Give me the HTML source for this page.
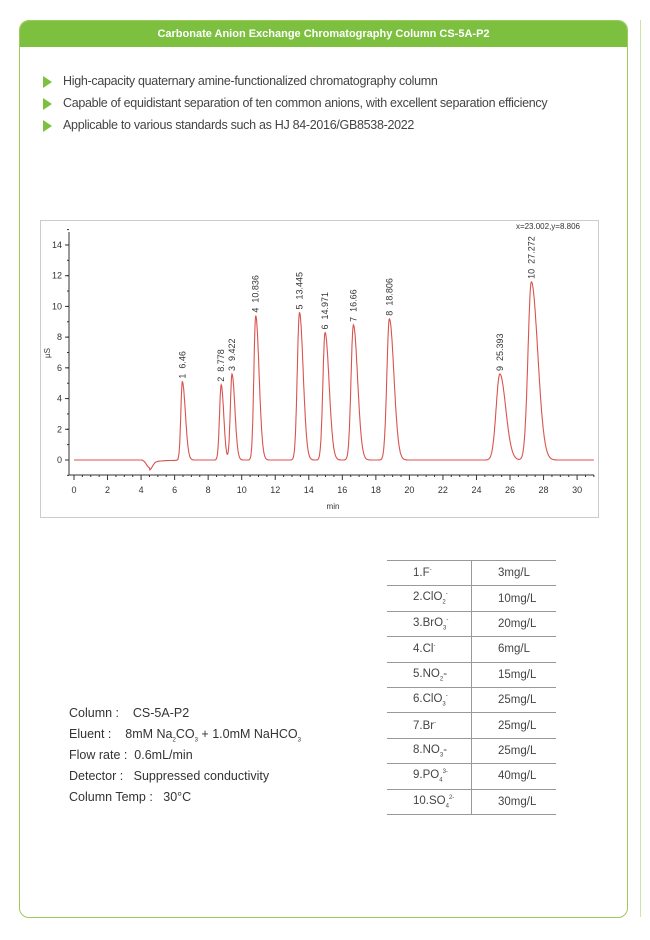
<!DOCTYPE html>
<html><head><meta charset="utf-8"><style>
body{margin:0;width:650px;height:940px;background:#fff;position:relative;overflow:hidden;font-family:"Liberation Sans","DejaVu Sans",sans-serif;}
.card{position:absolute;left:19px;top:20px;width:607px;height:896px;border:1.5px solid #9ccb5a;border-radius:10px;overflow:hidden;}
.hdr{position:absolute;left:0;top:0;width:100%;height:26px;background:#7dc040;color:#fff;font-weight:bold;font-size:11px;text-align:center;line-height:26px;}
.b{position:absolute;left:43px;font-size:12.5px;color:#444;letter-spacing:-0.3px}
.b:before{content:"";position:absolute;left:-20px;top:2px;border-left:9px solid #7dc040;border-top:6px solid transparent;border-bottom:6px solid transparent}
.p{position:absolute;left:49px;font-size:12.5px;color:#333}
table{position:absolute;left:367px;top:539px;border-collapse:collapse;font-size:11.5px;color:#444}
td{height:24.4px;border-top:1px solid #999;border-bottom:1px solid #999;padding:0 0 0 26px;width:58px}
td+td{border-left:1px solid #999;width:58px;padding-left:26px}
sup,sub{font-size:6px}
</style></head><body>
<div style="position:absolute;left:640px;top:20px;width:10px;height:897px;border-left:1px solid #cde3a8"></div>
<div class="card">
<div class="hdr">Carbonate Anion Exchange Chromatography Column CS-5A-P2</div>
<div class="b" style="top:53px">High-capacity quaternary amine-functionalized chromatography column</div>
<div class="b" style="top:75px">Capable of equidistant separation of ten common anions, with excellent separation efficiency</div>
<div class="b" style="top:97px">Applicable to various standards such as HJ 84-2016/GB8538-2022</div>
<div class="p" style="top:685px">Column :&nbsp;&nbsp;&nbsp; CS-5A-P2</div>
<div class="p" style="top:706px">Eluent :&nbsp;&nbsp;&nbsp; 8mM Na<sub>2</sub>CO<sub>3</sub> + 1.0mM NaHCO<sub>3</sub></div>
<div class="p" style="top:727px">Flow rate :&nbsp; 0.6mL/min</div>
<div class="p" style="top:748px">Detector :&nbsp;&nbsp; Suppressed conductivity</div>
<div class="p" style="top:769px">Column Temp :&nbsp;&nbsp; 30°C</div>
<table>
<tr><td>1.F<sup>-</sup></td><td>3mg/L</td></tr>
<tr><td>2.ClO<sub>2</sub><sup>-</sup></td><td>10mg/L</td></tr>
<tr><td>3.BrO<sub>3</sub><sup>-</sup></td><td>20mg/L</td></tr>
<tr><td>4.Cl<sup>-</sup></td><td>6mg/L</td></tr>
<tr><td>5.NO<sub>2</sub>-</td><td>15mg/L</td></tr>
<tr><td>6.ClO<sub>3</sub><sup>-</sup></td><td>25mg/L</td></tr>
<tr><td>7.Br<sup>-</sup></td><td>25mg/L</td></tr>
<tr><td>8.NO<sub>3</sub>-</td><td>25mg/L</td></tr>
<tr><td>9.PO<sub>4</sub><sup>3-</sup></td><td>40mg/L</td></tr>
<tr><td>10.SO<sub>4</sub><sup>2-</sup></td><td>30mg/L</td></tr>
</table>
</div>
<svg id="ch" style="position:absolute;left:0;top:0" width="650" height="940" font-family="Liberation Sans, sans-serif"></svg>
<script>
var s=document.getElementById('ch'),h='';
function X(t){return 74+t*16.77}function Y(v){return 460-v*15.36}
h+='<rect x="40.5" y="220.5" width="558" height="297" fill="none" stroke="#ccc"/>';
h+='<line x1="69" y1="232" x2="69" y2="475" stroke="#333"/><line x1="69" y1="475" x2="594" y2="475" stroke="#333"/>';
for(var v=0;v<=14;v+=2){h+='<line x1="65" x2="69" y1="'+Y(v)+'" y2="'+Y(v)+'" stroke="#333"/><text x="62" y="'+(Y(v)+3)+'" font-size="9" text-anchor="end" fill="#333">'+v+'</text>';}
for(var v=-1;v<=15;v++)h+='<line x1="67" x2="69" y1="'+Y(v)+'" y2="'+Y(v)+'" stroke="#333"/>';
for(var t=0;t<=31;t+=0.5){var big=t%2==0;h+='<line y1="475" y2="'+(big?480:477)+'" x1="'+X(t)+'" x2="'+X(t)+'" stroke="#333"/>';if(big)h+='<text x="'+X(t)+'" y="493" font-size="9" text-anchor="middle" fill="#333">'+t+'</text>';}
h+='<text x="333" y="509" font-size="8" text-anchor="middle" fill="#333">min</text>';
h+='<text x="50" y="353" font-size="8" fill="#333" transform="rotate(-90 50 353)" text-anchor="middle">µS</text>';
h+='<text x="580" y="229" font-size="8" text-anchor="end" fill="#333">x=23.002,y=8.806</text>';
var P=[[6.46,5.1,.09,.18,'1','6.46'],[8.778,4.9,.1,.15,'2','8.778'],[9.422,5.6,.1,.17,'3','9.422'],[10.836,9.4,.11,.2,'4','10.836'],[13.445,9.6,.13,.22,'5','13.445'],[14.971,8.3,.13,.24,'6','14.971'],[16.66,8.8,.14,.25,'7','16.66'],[18.806,9.2,.15,.27,'8','18.806'],[25.393,5.6,.22,.35,'9','25.393'],[27.272,11.6,.2,.38,'10','27.272']];
var d='';
for(var t=0;t<=31;t+=0.02){var v=0;
if(t>4.1&&t<6.2){v+=-0.5*Math.exp(-Math.pow(t-4.5,2)/0.06)-(t>4.5?0.15*Math.exp(-(t-4.5)/0.8):0)}
P.forEach(function(p){var dt=t-p[0],w=dt<0?p[2]:p[3];v+=p[1]*Math.exp(-dt*dt/(2*w*w));});
d+=(d?'L':'M')+X(t).toFixed(1)+','+Y(v).toFixed(1);}
h+='<path d="'+d+'" fill="none" stroke="#d9534f" stroke-width="1.1"/>';
P.forEach(function(p){var x=X(p[0])+3,y=Y(p[1])-3;h+='<text x="'+x+'" y="'+y+'" font-size="9" fill="#333" transform="rotate(-90 '+x+' '+y+')">'+p[4]+'&#160;&#160;'+p[5]+'</text>';});
s.innerHTML=h;
</script>
</body></html>
